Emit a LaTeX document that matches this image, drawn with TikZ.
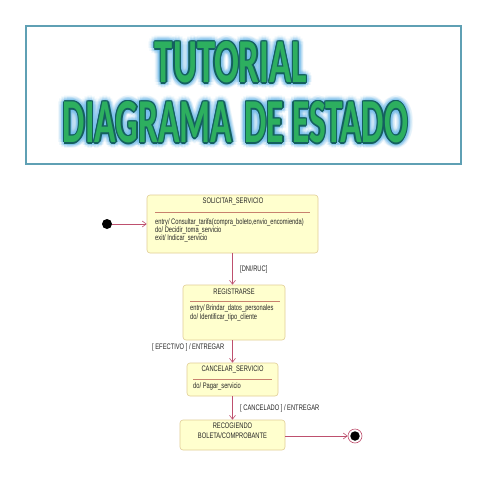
\documentclass[tikz,border=0pt]{standalone}
\usepackage{fontspec}
\setmainfont{Liberation Sans}
\newfontfamily\titlefont{Carlito}
\newfontfamily\umlfont[FakeStretch=0.72]{Liberation Sans}
\usetikzlibrary{arrows.meta}
\definecolor{frame}{RGB}{95,160,180}
\definecolor{glow}{RGB}{115,188,235}
\definecolor{tdark}{RGB}{20,95,95}
\definecolor{tgreen}{RGB}{45,175,95}
\definecolor{boxfill}{RGB}{255,255,206}
\definecolor{boxline}{RGB}{225,205,150}
\definecolor{sepline}{RGB}{200,130,110}
\definecolor{trans}{RGB}{190,80,110}
\newcommand\ttxt[3]{\resizebox{#1}{#2}{\titlefont\bfseries #3}}
\tikzset{
  umltext/.style={font=\umlfont\fontsize{8}{9}\selectfont, inner sep=0pt, text=black!85},
  statebox/.style={draw=boxline, fill=boxfill, rounded corners=3pt, line width=0.6pt},
  sep/.style={draw=sepline, line width=0.5pt},
  tr/.style={draw=trans, line width=0.6pt, -{Straight Barb[length=4pt,width=6pt]}},
}
\begin{document}
\begin{tikzpicture}[x=1pt,y=-1pt]
\useasboundingbox (0,0) rectangle (480,480);
\fill[white] (0,0) rectangle (480,480);
% title frame
\draw[frame, line width=1.3pt] (26,26) rectangle (461,164);
% glow layers
\foreach \r/\o in {6/0.10,4.5/0.15,3/0.25}{
  \foreach \a in {0,30,...,330}{
    \node[inner sep=0pt, text=glow, opacity=\o] at ([shift={(\a:\r)}]231,62.5) {\ttxt{152pt}{41pt}{TUTORIAL}};
    \node[inner sep=0pt, text=glow, opacity=\o] at ([shift={(\a:\r)}]235.5,122.5) {\ttxt{345pt}{41pt}{DIAGRAMA\hspace{0.35em}DE ESTADO}};
  }
}
\foreach \a in {0,45,...,315}{
  \node[inner sep=0pt, text=tdark] at ([shift={(\a:1.3)}]231,62.5) {\ttxt{152pt}{41pt}{TUTORIAL}};
  \node[inner sep=0pt, text=tdark] at ([shift={(\a:1.3)}]235.5,122.5) {\ttxt{345pt}{41pt}{DIAGRAMA\hspace{0.35em}DE ESTADO}};
}
\node[inner sep=0pt, text=tgreen] (t1) at (231,62.5) {\ttxt{152pt}{41pt}{TUTORIAL}};
\node[inner sep=0pt, text=tgreen] (t2) at (235.5,122.5) {\ttxt{345pt}{41pt}{DIAGRAMA\hspace{0.35em}DE ESTADO}};

% initial state
\node[circle, fill=black, inner sep=0pt, minimum size=10pt] (init) at (107,224) {};
% states
\node[statebox, minimum width=171pt, minimum height=58pt] (s1) at (232.5,224) {};
\node[umltext] (s1t) at (233,201.5) {SOLICITAR\_SERVICIO};
\draw[sep] (155,212.5) -- (310,212.5);
\node[umltext, anchor=west] (s1a) at (155,222.5) {entry/ Consultar\_tarifa(compra\_boleto,envio\_encomienda)};
\node[umltext, anchor=west] (s1b) at (155,230.5) {do/ Decidir\_toma\_servicio};
\node[umltext, anchor=west] (s1c) at (155,238.5) {exit/ Indicar\_servicio};

\node[statebox, minimum width=102pt, minimum height=55pt] (s2) at (234,312.5) {};
\node[umltext] (s2t) at (234,292) {REGISTRARSE};
\draw[sep] (190,301.5) -- (280,301.5);
\node[umltext, anchor=west] (s2a) at (190,308) {entry/ Brindar\_datos\_personales};
\node[umltext, anchor=west] (s2b) at (190,317.5) {do/ Identificar\_tipo\_cliente};

\node[statebox, minimum width=91pt, minimum height=33pt] (s3) at (232.5,379.5) {};
\node[umltext] (s3t) at (232.5,369) {CANCELAR\_SERVICIO};
\draw[sep] (193,379.5) -- (272,379.5);
\node[umltext, anchor=west] (s3a) at (193,386) {do/ Pagar\_servicio};

\node[statebox, minimum width=105pt, minimum height=30pt] (s4) at (232.5,435) {};
\node[umltext] (s4t) at (232.5,425.5) {RECOGIENDO};
\node[umltext] (s4u) at (232.5,435.5) {BOLETA/COMPROBANTE};

% final state
\node[circle, draw=trans, fill=white, line width=0.6pt, inner sep=0pt, minimum size=14pt] (fin) at (355,436) {};
\node[circle, fill=black, inner sep=0pt, minimum size=9.5pt] (fin2) at (fin) {};

% transitions
\draw[tr] (init.east) -- (s1.west);
\draw[tr] (s1.south) -- (s1.south |- s2.north);
\draw[tr] (s2.south -| s1.south) -- (s1.south |- s3.north);
\draw[tr] (s3.south) -- (s3.south |- s4.north);
\draw[tr] (s4.east |- fin) -- (fin.west);

\node[umltext, anchor=west] (l1) at (240,269) {[DNI/RUC]};
\node[umltext, anchor=west] (l2) at (152,347.5) {[ EFECTIVO ] / ENTREGAR};
\node[umltext, anchor=west] (l3) at (240,408) {[ CANCELADO ] / ENTREGAR};
\end{tikzpicture}
\end{document}
